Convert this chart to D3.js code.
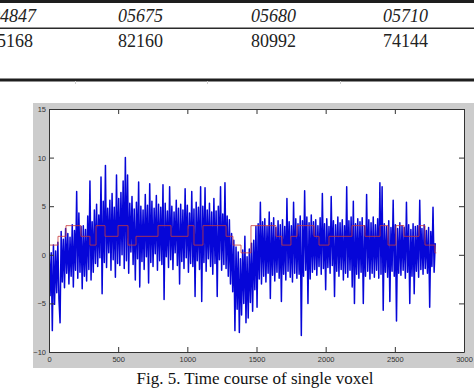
<!DOCTYPE html>
<html>
<head>
<meta charset="utf-8">
<script src="https://cdn.jsdelivr.net/npm/d3@7/dist/d3.min.js"></script>
<style>
  html, body { margin: 0; padding: 0; background: #ffffff; overflow: hidden; }
  svg { display: block; }
</style>
</head>
<body>
<svg id="chart" width="474" height="389"></svg>
<script>
// ---------- Table fragment (top) ----------
const tableHeader = ["04847", "05675", "05680", "05710"];
const tableValues = ["5168", "82160", "80992", "74144"];

// ---------- Plot data ----------
const xTicks = [0, 500, 1000, 1500, 2000, 2500, 3000];
const yTicks = [-10, -5, 0, 5, 10, 15];
const sampleStep = 8; // one stored value per 8 scans
// voxel time course (one per 8 scans)
const voxelSignal = [
  0.8, -4.2, 0.2, -7.8, 1.0, -5.1, 0.4, -3.9, 1.3, -4.6,
  -7.0, 2.4, -2.8, 1.6, -3.4, 2.7, -1.9, 2.2, -3.0, 1.8,
  -2.2, 3.1, -3.3, 2.5, -1.6, 6.5, -2.4, 4.3, -1.8, 2.9,
  -3.5, 3.0, -2.2, 2.6, -2.7, 4.0, -1.5, 7.6, -2.6, 3.4,
  -1.8, 4.6, -0.9, 5.2, -1.2, 4.1, -0.3, 8.0, -4.0, 5.5,
  -0.8, 9.2, -1.3, 4.8, 0.2, 5.6, -1.6, 6.3, -0.5, 4.9,
  -2.3, 8.2, -0.9, 5.8, -1.1, 6.4, 0.0, 7.6, -1.4, 10.0,
  -0.6, 8.2, -1.9, 5.3, 0.3, 6.0, -1.0, 4.7, -2.6, 5.4,
  -0.4, 7.5, -3.3, 5.0, -0.7, 4.6, -1.5, 6.2, -0.2, 5.1,
  -2.9, 7.3, -0.8, 5.5, -1.2, 4.8, 0.1, 6.1, -1.6, 5.2,
  -0.6, 4.9, -1.0, 7.2, -4.6, 5.3, -0.2, 4.5, -1.3, 7.0,
  -0.5, 5.0, -1.5, 4.4, 0.2, 5.6, -1.1, 4.8, -3.0, 5.2,
  -0.7, 4.6, -1.4, 6.8, -0.3, 5.1, -1.8, 4.3, -0.9, 6.5,
  -1.2, 4.7, -4.3, 5.4, -0.6, 4.9, -1.5, 7.0, -4.8, 5.0,
  -0.8, 6.9, -1.7, 4.6, -0.4, 5.3, -1.2, 4.4, -2.0, 5.8,
  -0.9, 4.5, -4.3, 5.0, -0.5, 7.0, -1.6, 4.2, -1.0, 7.4,
  -1.4, 4.0, -2.2, 3.6, -3.0, 2.2, -3.8, 1.5, -7.8, 0.8,
  -5.6, 0.3, -8.0, -0.4, -6.2, 0.5, -5.0, 1.9, -7.0, -0.2,
  -6.5, 0.6, -4.9, 1.2, -5.8, 1.5, -3.6, 2.9, -5.4, 3.2,
  -2.5, 5.4, -3.0, 3.4, -2.2, 3.7, -2.8, 2.9, -1.9, 4.4,
  -4.5, 3.3, -2.1, 3.8, -2.7, 2.8, -1.8, 3.5, -2.4, 3.1,
  -4.8, 3.6, -2.0, 2.9, -2.6, 5.8, -1.7, 3.4, -2.3, 3.0,
  -2.8, 5.4, -1.9, 3.7, -2.4, 3.2, -2.0, 4.0, -8.3, 3.5,
  -2.2, 6.6, -1.6, 3.9, -5.0, 3.3, -2.5, 4.1, -1.8, 3.4,
  -1.5, 3.6, -2.1, 3.0, -1.2, 3.8, -2.0, 6.3, -1.4, 3.2,
  -3.6, 3.7, -1.3, 2.9, -1.9, 6.0, -1.1, 3.5, -4.3, 3.1,
  -1.7, 3.9, -2.2, 3.3, -1.5, 3.6, -2.6, 3.0, -1.9, 7.0,
  -2.3, 3.5, -1.6, 3.9, -3.3, 5.5, -5.0, 3.2, -2.0, 3.7,
  -2.4, 3.4, -1.8, 3.8, -5.0, 3.0, -2.2, 6.2, -1.7, 3.6,
  -2.5, 3.3, -1.9, 3.9, -2.3, 3.1, -1.6, 3.7, -2.4, 7.4,
  -2.0, 7.0, -5.7, 3.2, -1.8, 2.9, -2.3, 3.5, -4.8, 2.8,
  -1.7, 5.6, -2.2, 3.1, -6.8, 2.7, -1.9, 3.3, -2.1, 3.0,
  -1.6, 2.8, -2.4, 5.4, -1.8, 3.1, -5.0, 2.6, -2.2, 3.2,
  -4.0, 2.9, -1.7, 3.0, -2.3, 5.6, -1.5, 2.7, -2.0, 3.1,
  -1.4, 2.5, -1.9, 2.8, -5.4, 2.4, -1.2, 4.9, -1.8, 1.2
];
// fitted model (red step curve): block start scan and level
const blockStarts = [0, 65, 123, 231, 296, 340, 405, 499, 571, 629, 788, 882, 1005, 1048, 1113, 1280, 1330, 1388,
  1460, 1641, 1684, 1749, 1793, 1916, 1952, 2024, 2190, 2284, 2393, 2451, 2508, 2566, 2675, 2718, 2790];
const blockLevels = [1.0, 1.9, 3.0, 1.9, 1.0, 3.0, 1.9, 3.0, 1.0, 1.9, 3.0, 1.9, 3.0, 1.0, 3.0, 1.9, 1.0, 0.2,
  3.0, 1.9, 1.0, 1.9, 3.0, 1.9, 1.0, 1.9, 3.0, 1.9, 3.0, 1.0, 3.0, 1.9, 3.0, 1.0, 0.2];
const modelEnd = 2800;
const captionText = "Fig. 5. Time course of single voxel";

// ---------- Drawing ----------
const svg = d3.select("#chart");
const serif = "'Liberation Serif', 'Times New Roman', serif";

// table fragment
const tbl = svg.append("g");
tbl.append("rect").attr("x", 0).attr("y", 0).attr("width", 474).attr("height", 3).attr("fill", "#1e1e1e");
tbl.append("rect").attr("x", 0).attr("y", 27.5).attr("width", 474).attr("height", 1.5).attr("fill", "#2a2a2a");
tbl.append("rect").attr("x", 0).attr("y", 78.5).attr("width", 474).attr("height", 3).attr("fill", "#1e1e1e");
const colX = [-9, 118, 251, 383];
tbl.selectAll("text.h").data(tableHeader).join("text")
  .attr("class", "h")
  .attr("x", (d, i) => colX[i]).attr("y", 22)
  .style("font-family", serif)
  .style("font-style", "italic").style("font-size", "18px").attr("fill", "#222")
  .text(d => d);
const colX2 = [-3, 118, 251, 383];
tbl.selectAll("text.v").data(tableValues).join("text")
  .attr("class", "v")
  .attr("x", (d, i) => colX2[i]).attr("y", 47)
  .style("font-family", serif)
  .style("font-size", "18px").attr("fill", "#222")
  .text(d => d);
[75, 207, 340].forEach(cx => {
  tbl.append("rect").attr("x", cx).attr("y", 81).attr("width", 1).attr("height", 3).attr("fill", "#cfcfcf");
});

// figure background
svg.append("rect").attr("x", 33).attr("y", 103).attr("width", 441).attr("height", 265).attr("fill", "#cccccc");

const x = d3.scaleLinear().domain([0, 3000]).range([49, 464]);
const y = d3.scaleLinear().domain([-10, 15]).range([352, 109]);

svg.append("rect")
  .attr("x", x(0)).attr("y", y(15))
  .attr("width", x(3000) - x(0)).attr("height", y(-10) - y(15))
  .attr("fill", "#ffffff");

const plot = svg.append("g");
plot.append("clipPath").attr("id", "clip").append("rect")
  .attr("x", x(0)).attr("y", y(15)).attr("width", x(3000) - x(0)).attr("height", y(-10) - y(15));

const sigLine = d3.line().x((d, i) => x(i * sampleStep)).y(d => y(d));
plot.append("path")
  .datum(voxelSignal)
  .attr("clip-path", "url(#clip)")
  .attr("d", sigLine)
  .attr("fill", "none").attr("stroke", "#0606d8").attr("stroke-width", 1.5)
  .attr("stroke-linejoin", "round");

const modelPts = blockStarts.map((s, i) => [s, blockLevels[i]]);
modelPts.push([modelEnd, blockLevels[blockLevels.length - 1]]);
const stepLine = d3.line().curve(d3.curveStepAfter).x(d => x(d[0])).y(d => y(d[1]));
plot.append("path")
  .datum(modelPts)
  .attr("d", stepLine)
  .attr("fill", "none").attr("stroke", "#c83a3a").attr("stroke-width", 1).attr("opacity", 0.8);

// axes (MATLAB style, inward ticks)
const fontAx = "'Liberation Sans', Arial, sans-serif";
const gx = svg.append("g").attr("transform", `translate(0,${y(-10)})`)
  .call(d3.axisBottom(x).tickValues(xTicks).tickSizeInner(-5).tickSizeOuter(0).tickPadding(5).tickFormat(d3.format("d")));
const gy = svg.append("g").attr("transform", `translate(${x(0)},0)`)
  .call(d3.axisLeft(y).tickValues(yTicks).tickSizeInner(-5).tickSizeOuter(0).tickPadding(3).tickFormat(d3.format("d")));
const gt = svg.append("g").attr("transform", `translate(0,${y(15)})`)
  .call(d3.axisTop(x).tickValues(xTicks).tickSizeInner(-5).tickSizeOuter(0).tickFormat(""));
const gr = svg.append("g").attr("transform", `translate(${x(3000)},0)`)
  .call(d3.axisRight(y).tickValues(yTicks).tickSizeInner(-5).tickSizeOuter(0).tickFormat(""));
[gx, gy, gt, gr].forEach(g => {
  g.selectAll("path.domain").attr("stroke", "#333").attr("stroke-width", 1);
  g.selectAll(".tick line").attr("stroke", "#333");
  g.selectAll("text").style("font-family", fontAx).style("font-size", "7.5px").attr("fill", "#333");
});

// caption
svg.append("text")
  .attr("x", 255).attr("y", 384).attr("text-anchor", "middle")
  .style("font-family", serif)
  .style("font-size", "17px").attr("fill", "#111")
  .text(captionText);
</script>
</body>
</html>
